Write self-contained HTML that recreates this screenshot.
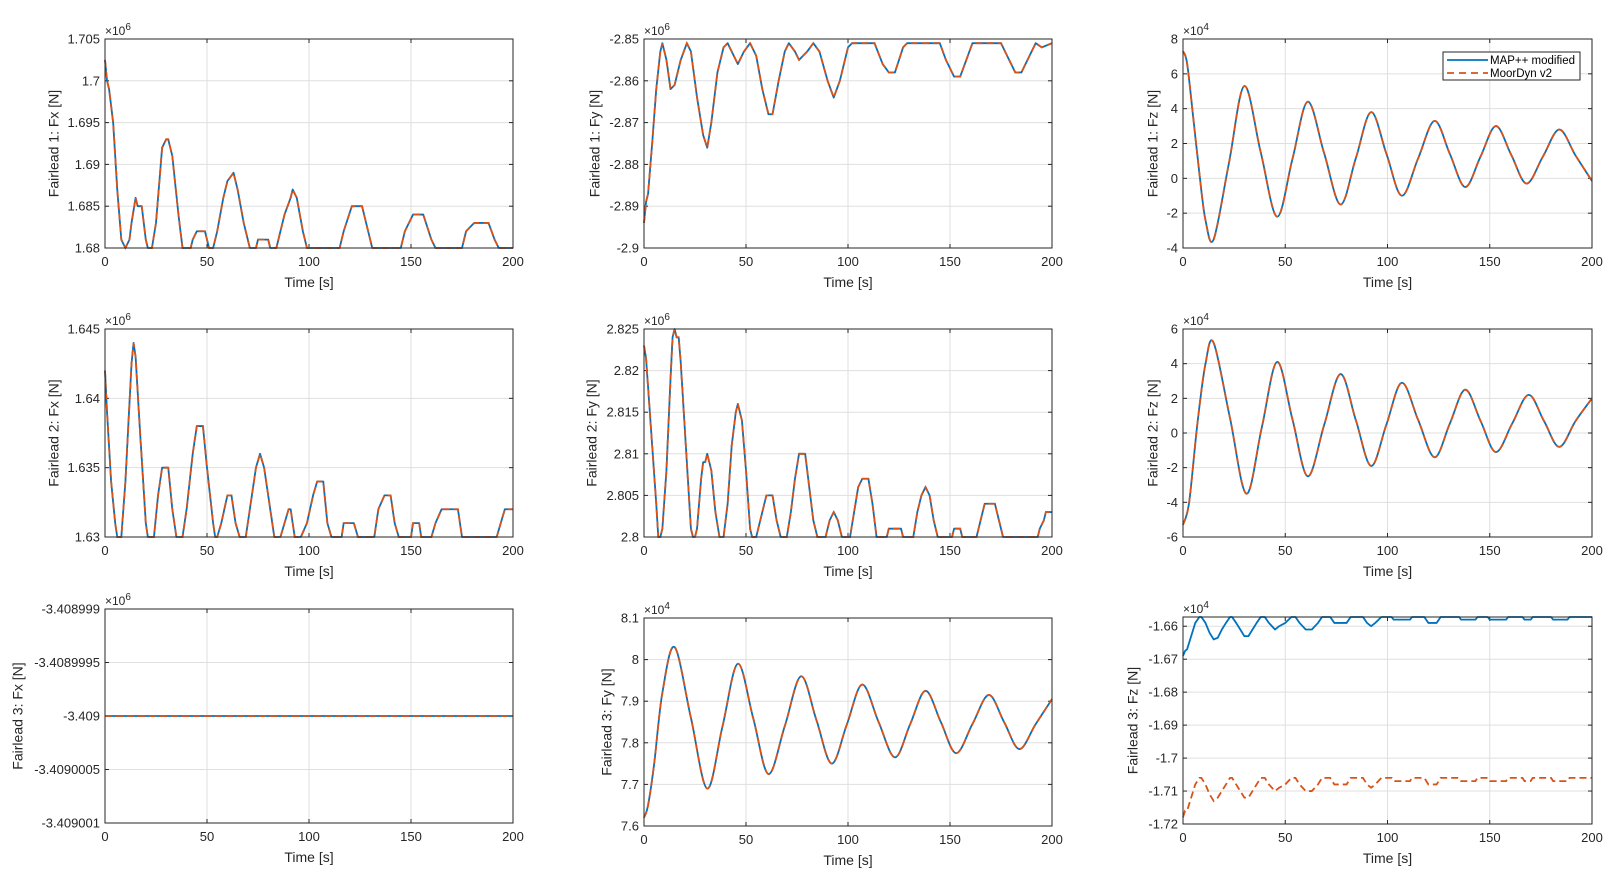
<!DOCTYPE html>
<html><head><meta charset="utf-8"><style>
html,body{margin:0;padding:0;background:#fff;}
svg{display:block;font-family:"Liberation Sans",Arial,sans-serif;}
</style></head><body>
<svg id="fig" width="1613" height="878" viewBox="0 0 1613 878" xmlns="http://www.w3.org/2000/svg"></svg>
<script>
// ---- data (values in displayed axis units) ----
const times_f1fx=[0,1,2,4,6,8,10,12,13,15,16,18,20,21,23,25,28,30,31,33,36,38,42,43,45,49,50,51,53,55,58,60,63,65,68,70,71,74,75,80,81,84,85,88,91,92,94,97,99,115,117,121,126,129,131,145,147,151,156,160,162,175,177,181,188,191,193,200];
const map_f1fx=[1.7025,1.700,1.699,1.695,1.687,1.681,1.680,1.681,1.683,1.686,1.685,1.685,1.681,1.680,1.680,1.683,1.692,1.693,1.693,1.691,1.684,1.680,1.680,1.681,1.682,1.682,1.681,1.680,1.680,1.682,1.686,1.688,1.689,1.687,1.683,1.681,1.680,1.680,1.681,1.681,1.680,1.680,1.681,1.684,1.686,1.687,1.686,1.682,1.680,1.680,1.682,1.685,1.685,1.682,1.680,1.680,1.682,1.684,1.684,1.681,1.680,1.680,1.682,1.683,1.683,1.681,1.680,1.680];
const md_f1fx=map_f1fx.slice();

const times_f1fy=[0,1,2,4,6,8,9,11,13,15,18,21,23,26,29,31,33,36,39,41,44,46,49,52,55,58,61,63,66,69,71,74,76,80,83,86,90,93,96,100,102,110,113,117,120,123,127,129,140,145,148,152,155,158,161,165,175,178,182,185,189,192,195,200];
const map_f1fy=[-2.894,-2.889,-2.887,-2.875,-2.862,-2.853,-2.851,-2.855,-2.862,-2.861,-2.855,-2.851,-2.853,-2.864,-2.873,-2.876,-2.870,-2.858,-2.852,-2.851,-2.854,-2.856,-2.853,-2.851,-2.854,-2.862,-2.868,-2.868,-2.860,-2.853,-2.851,-2.853,-2.855,-2.853,-2.851,-2.853,-2.860,-2.864,-2.860,-2.852,-2.851,-2.851,-2.851,-2.856,-2.858,-2.858,-2.852,-2.851,-2.851,-2.851,-2.855,-2.859,-2.859,-2.855,-2.851,-2.851,-2.851,-2.854,-2.858,-2.858,-2.854,-2.851,-2.852,-2.851];
const md_f1fy=map_f1fy.slice();

const times_f1fz=[0,2,5,8,11,15,22.5,30,38,46,53.5,61,69,77,84.5,92,99.5,107,115,123,130.5,138,145.5,153,160.5,168,176,184,192,200];
const map_f1fz=[7.3,6.6,3.5,0.3,-2.4,-3.5,0.9,5.3,1.5,-2.2,1.1,4.4,1.45,-1.5,1.15,3.8,1.4,-1.0,1.15,3.3,1.4,-0.5,1.25,3.0,1.35,-0.3,1.25,2.8,1.3,-0.15];
const md_f1fz=map_f1fz.slice();

const times_f2fx=[0,1,3,5,6,8,10,13,14,15,17,20,21,24,26,28,31,33,35,38,40,43,45,48,50,53,54,55,57,60,62,64,66,69,71,74,76,78,81,83,86,88,90,91,93,96,99,102,104,107,109,111,116,117,122,124,132,134,137,140,142,144,150,151,154,155,160,162,165,173,175,192,194,196,200];
const map_f2fx=[1.642,1.639,1.634,1.631,1.630,1.630,1.634,1.6425,1.644,1.643,1.638,1.631,1.630,1.630,1.633,1.635,1.635,1.632,1.630,1.630,1.632,1.636,1.638,1.638,1.635,1.631,1.630,1.630,1.631,1.633,1.633,1.631,1.630,1.630,1.632,1.635,1.636,1.635,1.632,1.630,1.630,1.631,1.632,1.632,1.630,1.630,1.631,1.633,1.634,1.634,1.631,1.630,1.630,1.631,1.631,1.630,1.630,1.632,1.633,1.633,1.631,1.630,1.630,1.631,1.631,1.630,1.630,1.631,1.632,1.632,1.630,1.630,1.631,1.632,1.632];
const md_f2fx=map_f2fx.slice();

const times_f2fy=[0,1,2,4,6,7,8,9,11,13,14,15,16,17,18,20,22,23,24,25,26,28,29,30,31,33,35,37,39,41,43,45,46,48,50,52,53,55,57,59,60,63,65,67,70,72,74,76,79,81,83,85,89,90,91,93,95,97,101,103,105,107,110,112,114,119,120,126,127,132,134,136,138,140,142,144,151,152,155,156,163,165,167,172,174,176,193,194,196,197,200];
const map_f2fy=[2.823,2.8215,2.818,2.811,2.804,2.800,2.800,2.801,2.808,2.819,2.824,2.825,2.824,2.824,2.821,2.813,2.805,2.801,2.800,2.800,2.801,2.807,2.809,2.809,2.810,2.808,2.803,2.800,2.800,2.804,2.811,2.815,2.816,2.814,2.808,2.801,2.800,2.800,2.802,2.804,2.805,2.805,2.802,2.800,2.800,2.803,2.807,2.810,2.810,2.806,2.802,2.800,2.800,2.801,2.802,2.803,2.802,2.800,2.800,2.803,2.806,2.807,2.807,2.804,2.800,2.800,2.801,2.801,2.800,2.800,2.803,2.805,2.806,2.805,2.802,2.800,2.800,2.801,2.801,2.800,2.800,2.802,2.804,2.804,2.802,2.800,2.800,2.801,2.802,2.803,2.803];
const md_f2fy=map_f2fy.slice();

const times_f2fz=[0,3,7,11,15,23,31,38.5,46,53.5,61,69,77,84.5,92,99.5,107,115,123,130.5,138,145.5,153,161,169,176.5,184,192,200];
const map_f2fz=[-5.3,-4.0,0.5,4.0,5.2,0.85,-3.5,0.3,4.1,0.8,-2.5,0.45,3.4,0.75,-1.9,0.5,2.9,0.75,-1.4,0.55,2.5,0.7,-1.1,0.55,2.2,0.7,-0.8,0.7,2.0];
const md_f2fz=map_f2fz.slice();

const times_f3fx=[0,200];
const map_f3fx=[-3.409,-3.409];
const md_f3fx=[-3.409,-3.409];

const times_f3fy=[0,2,5,9,15,23,31,38.5,46,53.5,61,69,77,84.5,92,99.5,107,115,123,130.5,138,145.5,153,161,169,176.5,184,192,200];
const map_f3fy=[7.62,7.65,7.75,7.92,8.03,7.86,7.69,7.84,7.99,7.86,7.725,7.84,7.96,7.855,7.75,7.845,7.94,7.85,7.765,7.845,7.925,7.85,7.775,7.845,7.915,7.85,7.785,7.845,7.905];
const md_f3fy=map_f3fy.slice();

const times_f3fz=[0,1,2,4,6,8,9,11,13,15,17,19,21,23,24,26,28,30,32,34,36,38,40,42,45,47,50,53,55,57,60,63,66,68,72,74,80,82,88,90,92,94,97,102,103,111,112,118,120,124,126,135,136,143,144,149,150,158,159,166,167,170,171,180,181,188,189,200];
const map_f3fz=[-1.669,-1.6675,-1.667,-1.663,-1.659,-1.6572,-1.6572,-1.659,-1.662,-1.664,-1.6635,-1.661,-1.659,-1.6572,-1.6572,-1.659,-1.661,-1.663,-1.663,-1.661,-1.659,-1.6572,-1.6572,-1.659,-1.661,-1.660,-1.659,-1.6572,-1.6572,-1.659,-1.661,-1.661,-1.659,-1.6572,-1.6572,-1.659,-1.659,-1.6572,-1.6572,-1.659,-1.660,-1.659,-1.6572,-1.6572,-1.658,-1.658,-1.6572,-1.6572,-1.659,-1.659,-1.6572,-1.6572,-1.658,-1.658,-1.6572,-1.6572,-1.658,-1.658,-1.6572,-1.6572,-1.658,-1.658,-1.6572,-1.6572,-1.658,-1.658,-1.6572,-1.6572];
const md_f3fz=[-1.718,-1.716,-1.716,-1.712,-1.708,-1.706,-1.706,-1.708,-1.711,-1.713,-1.712,-1.710,-1.708,-1.706,-1.706,-1.708,-1.710,-1.712,-1.712,-1.710,-1.708,-1.706,-1.706,-1.708,-1.710,-1.709,-1.708,-1.706,-1.706,-1.708,-1.710,-1.710,-1.708,-1.706,-1.706,-1.708,-1.708,-1.706,-1.706,-1.708,-1.709,-1.708,-1.706,-1.706,-1.707,-1.707,-1.706,-1.706,-1.708,-1.708,-1.706,-1.706,-1.707,-1.707,-1.706,-1.706,-1.707,-1.707,-1.706,-1.706,-1.707,-1.707,-1.706,-1.706,-1.707,-1.707,-1.706,-1.706];

const xTicks=[0,50,100,150,200];
const yTicks_f1fx=[1.68,1.685,1.69,1.695,1.7,1.705];
const yTicks_f1fy=[-2.9,-2.89,-2.88,-2.87,-2.86,-2.85];
const yTicks_f1fz=[-4,-2,0,2,4,6,8];
const yTicks_f2fx=[1.63,1.635,1.64,1.645];
const yTicks_f2fy=[2.8,2.805,2.81,2.815,2.82,2.825];
const yTicks_f2fz=[-6,-4,-2,0,2,4,6];
const yTicks_f3fx=[-3.409001,-3.4090005,-3.409,-3.4089995,-3.408999];
const yTicks_f3fy=[7.6,7.7,7.8,7.9,8,8.1];
const yTicks_f3fz=[-1.72,-1.71,-1.7,-1.69,-1.68,-1.67,-1.66];

const NS="http://www.w3.org/2000/svg";
const svg=document.getElementById('fig');
function mk(tag,attrs,parent){const e=document.createElementNS(NS,tag);for(const k in attrs)e.setAttribute(k,attrs[k]);(parent||svg).appendChild(e);return e;}

const plots=[
 {id:'f1fx',L:105,R:513,T:39,B:248,ymin:1.68,ymax:1.705,yt:yTicks_f1fx,t:times_f1fx,a:map_f1fx,b:md_f1fx,lab:'Fairlead 1: Fx [N]',lx:55,exp:'6',smooth:false},
 {id:'f1fy',L:644,R:1052,T:39,B:248,ymin:-2.9,ymax:-2.85,yt:yTicks_f1fy,t:times_f1fy,a:map_f1fy,b:md_f1fy,lab:'Fairlead 1: Fy [N]',lx:596,exp:'6',smooth:false},
 {id:'f1fz',L:1183,R:1592,T:39,B:248,ymin:-4,ymax:8,yt:yTicks_f1fz,t:times_f1fz,a:map_f1fz,b:md_f1fz,lab:'Fairlead 1: Fz [N]',lx:1154,exp:'4',smooth:true},
 {id:'f2fx',L:105,R:513,T:329,B:537,ymin:1.63,ymax:1.645,yt:yTicks_f2fx,t:times_f2fx,a:map_f2fx,b:md_f2fx,lab:'Fairlead 2: Fx [N]',lx:55,exp:'6',smooth:false},
 {id:'f2fy',L:644,R:1052,T:329,B:537,ymin:2.8,ymax:2.825,yt:yTicks_f2fy,t:times_f2fy,a:map_f2fy,b:md_f2fy,lab:'Fairlead 2: Fy [N]',lx:593,exp:'6',smooth:false},
 {id:'f2fz',L:1183,R:1592,T:329,B:537,ymin:-6,ymax:6,yt:yTicks_f2fz,t:times_f2fz,a:map_f2fz,b:md_f2fz,lab:'Fairlead 2: Fz [N]',lx:1154,exp:'4',smooth:true},
 {id:'f3fx',L:105,R:513,T:609,B:823,ymin:-3.409001,ymax:-3.408999,yt:yTicks_f3fx,t:times_f3fx,a:map_f3fx,b:md_f3fx,lab:'Fairlead 3: Fx [N]',lx:19,exp:'6',smooth:false,prec:true},
 {id:'f3fy',L:644,R:1052,T:618,B:826,ymin:7.6,ymax:8.1,yt:yTicks_f3fy,t:times_f3fy,a:map_f3fy,b:md_f3fy,lab:'Fairlead 3: Fy [N]',lx:608,exp:'4',smooth:true},
 {id:'f3fz',L:1183,R:1592,T:617,B:824,ymin:-1.72,ymax:-1.6572,yt:yTicks_f3fz,t:times_f3fz,a:map_f3fz,b:md_f3fz,lab:'Fairlead 3: Fz [N]',lx:1134,exp:'4',smooth:false}
];

function fmt(v){let s=String(+v.toPrecision(8));return s;}
function pathFor(p,vals){
  const xs=v=>p.L+(v-0)/(200-0)*(p.R-p.L);
  const ys=v=>p.B-(v-p.ymin)/(p.ymax-p.ymin)*(p.B-p.T);
  const n=Math.min(p.t.length,vals.length);
  const pts=[];for(let i=0;i<n;i++)pts.push([xs(p.t[i]),ys(vals[i])]);
  if(!p.smooth||pts.length<3)return 'M'+pts.map(q=>q[0].toFixed(2)+','+q[1].toFixed(2)).join(' L');
  let d='M'+pts[0][0].toFixed(2)+','+pts[0][1].toFixed(2);
  for(let i=0;i<pts.length-1;i++){
    const p0=pts[Math.max(0,i-1)],p1=pts[i],p2=pts[i+1],p3=pts[Math.min(pts.length-1,i+2)];
    const c1=[p1[0]+(p2[0]-p0[0])/6,p1[1]+(p2[1]-p0[1])/6];
    const c2=[p2[0]-(p3[0]-p1[0])/6,p2[1]-(p3[1]-p1[1])/6];
    d+=' C'+c1.map(v=>v.toFixed(2)).join(',')+' '+c2.map(v=>v.toFixed(2)).join(',')+' '+p2[0].toFixed(2)+','+p2[1].toFixed(2);
  }
  return d;
}

plots.forEach(p=>{
  const g=mk('g',{});
  
  
  const xs=v=>p.L+v/200*(p.R-p.L);
  const ys=v=>p.B-(v-p.ymin)/(p.ymax-p.ymin)*(p.B-p.T);
  const bg=mk('rect',{x:p.L,y:p.T,width:p.R-p.L,height:p.B-p.T,fill:'#fff'},g);
  
  
  xTicks.forEach(t=>{
    const x=xs(t);
    if(t>0&&t<200){const gl=mk('line',{x1:x,x2:x,y1:p.T,y2:p.B,stroke:'#dfdfdf','stroke-width':1},g);
      }
    mk('line',{x1:x,x2:x,y1:p.B,y2:p.B-4,stroke:'#262626','stroke-width':1},g);
    mk('line',{x1:x,x2:x,y1:p.T,y2:p.T+4,stroke:'#262626','stroke-width':1},g);
    const tl=mk('text',{x:x,y:p.B+18,'text-anchor':'middle','font-size':13,fill:'#262626'},g);
    tl.textContent=t;
    
  });
  p.yt.forEach(v=>{
    const y=ys(v);
    if(Math.abs(y-p.T)>1&&Math.abs(y-p.B)>1){const gl=mk('line',{x1:p.L,x2:p.R,y1:y,y2:y,stroke:'#dfdfdf','stroke-width':1},g);
      }
    mk('line',{x1:p.L,x2:p.L+4,y1:y,y2:y,stroke:'#262626','stroke-width':1},g);
    mk('line',{x1:p.R,x2:p.R-4,y1:y,y2:y,stroke:'#262626','stroke-width':1},g);
    const tl=mk('text',{x:p.L-5,y:y+4.5,'text-anchor':'end','font-size':13,fill:'#262626'},g);
    tl.textContent=fmt(v);
    
  });
  const s1=mk('path',{d:pathFor(p,p.a),fill:'none',stroke:'#0072BD','stroke-width':1.8,'stroke-linejoin':'round'},g);
  
  const s2=mk('path',{d:pathFor(p,p.b),fill:'none',stroke:'#D95319','stroke-width':1.8,'stroke-dasharray':'7,4'},g);
  
  const box=mk('rect',{x:p.L,y:p.T,width:p.R-p.L,height:p.B-p.T,fill:'none',stroke:'#262626','stroke-width':1},g);
  
  const ex=mk('text',{x:p.L,y:p.T-4,'font-size':12,fill:'#262626'},g);
  ex.innerHTML='×10<tspan dy="-5" font-size="10">'+p.exp+'</tspan>';
  
  const xl=mk('text',{x:(p.L+p.R)/2,y:p.B+39,'text-anchor':'middle','font-size':14,fill:'#262626'},g);
  xl.textContent='Time [s]';
  
  const cy=(p.T+p.B)/2;
  const yl=mk('text',{x:p.lx,y:cy,'text-anchor':'middle','font-size':14,fill:'#262626',transform:'rotate(-90 '+p.lx+' '+cy+')','dominant-baseline':'middle'},g);
  yl.textContent=p.lab;
  
});

// legend
const lg=mk('g',{});


mk('rect',{x:1443,y:52,width:137,height:28,fill:'#fff',stroke:'#262626','stroke-width':1},lg);
const le1=mk('line',{x1:1447,x2:1488,y1:60,y2:60,stroke:'#0072BD','stroke-width':1.8},lg);

const lt1=mk('text',{x:1490,y:64,'font-size':11.5,fill:'#000'},lg);lt1.textContent='MAP++ modified';

const le2=mk('line',{x1:1447,x2:1488,y1:73,y2:73,stroke:'#D95319','stroke-width':1.8,'stroke-dasharray':'7,5'},lg);

const lt2=mk('text',{x:1490,y:77,'font-size':11.5,fill:'#000'},lg);lt2.textContent='MoorDyn v2';

</script>
</body></html>
